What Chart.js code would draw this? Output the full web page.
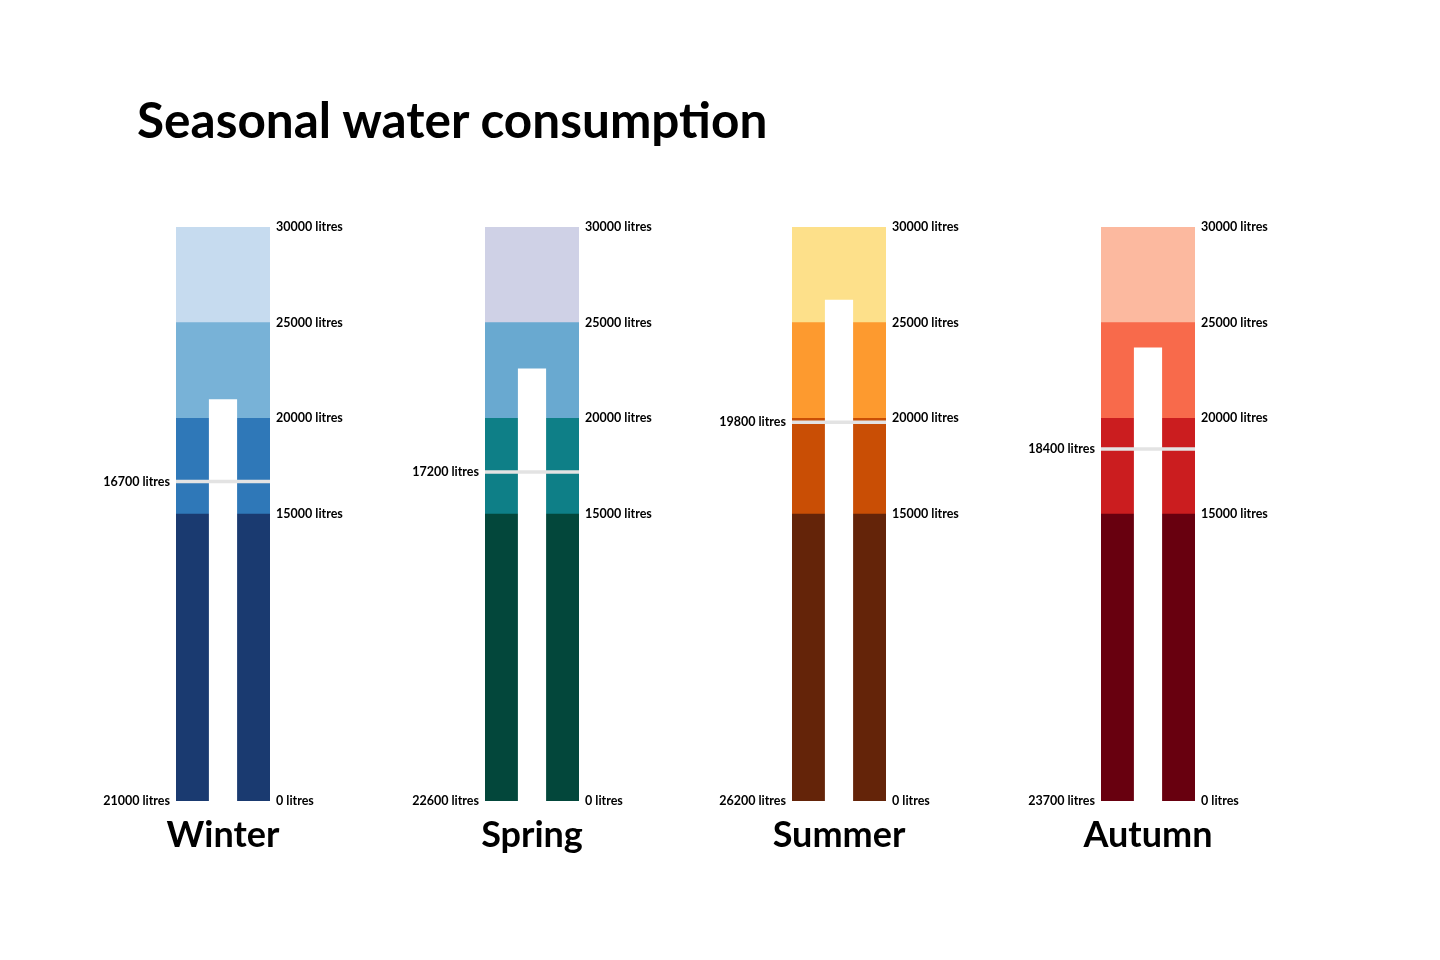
<!DOCTYPE html>
<html>
<head>
<meta charset="utf-8">
<script src="https://cdn.jsdelivr.net/npm/chart.js@4/dist/chart.umd.min.js"></script>
<style>
  body { margin: 0; background: #fff; width: 1440px; height: 960px; position: relative; overflow: hidden; font-family: Lato, sans-serif; }
  h1 { position: absolute; left: 137px; top: 90px; margin: 0; font-size: 49.5px; font-weight: 700; color: #000; line-height: 1.2; }
  .panel { position: absolute; top: 200px; width: 308px; height: 680px; }
</style>
</head>
<body>
<h1>Seasonal water consumption</h1>
<div class="panel" style="left:69px"><canvas id="c0"></canvas></div>
<div class="panel" style="left:378px"><canvas id="c1"></canvas></div>
<div class="panel" style="left:685px"><canvas id="c2"></canvas></div>
<div class="panel" style="left:994px"><canvas id="c3"></canvas></div>
<script>
// values
const seasons = ['Winter', 'Spring', 'Summer', 'Autumn']
const consumption = [21000, 22600, 26200, 23700]
const targets = [16700, 17200, 19800, 18400]
const bandLimits = [15000, 20000, 25000, 30000]
const axisTicks = [0, 15000, 20000, 25000, 30000]

// band colours, darkest first
const palettes = [
    ['#1a3a70', '#2f78b8', '#78b2d7', '#c6dbef'],
    ['#03473b', '#0e7f87', '#69a9d0', '#cfd1e6'],
    ['#642409', '#c94e05', '#fd9a2f', '#fde08a'],
    ['#68000f', '#cb1d1f', '#f86a4b', '#fcb99f']
]

const tickFont = { family: 'Lato', size: 12.5, weight: 'bold' }

seasons.forEach((season, i) => {
    let bands = bandLimits.map((top, b) => ({
        data: [[b === 0 ? 0 : bandLimits[b - 1], top]],
        backgroundColor: palettes[i][b],
        barPercentage: 1,
        categoryPercentage: 1,
        grouped: false
    }))

    new Chart(document.getElementById('c' + i), {
        type: 'bar',
        data: {
            labels: [season],
            datasets: [
                // target marker, thin light line across the band
                {
                    data: [[targets[i] - 75, targets[i] + 75]],
                    backgroundColor: '#e3e3e3',
                    barPercentage: 1,
                    categoryPercentage: 1,
                    grouped: false
                },
                // actual consumption
                {
                    data: [[0, consumption[i]]],
                    backgroundColor: '#ffffff',
                    barPercentage: 0.3,
                    categoryPercentage: 1,
                    grouped: false
                },
                ...bands
            ]
        },
        options: {
            responsive: true,
            maintainAspectRatio: false,
            animation: false,
            layout: { padding: { top: 27 } },
            plugins: { legend: { display: false }, tooltip: { enabled: false } },
            scales: {
                x: {
                    grid: { display: false, drawTicks: false },
                    border: { display: false },
                    ticks: { color: '#000', padding: 13, font: { family: 'Lato', size: 36, weight: 'bold' } },
                    afterFit: (scale) => { scale.height = 79 }
                },
                y: {
                    position: 'left',
                    min: 0,
                    max: 30000,
                    grid: { display: false, drawTicks: false },
                    border: { display: false },
                    afterBuildTicks: (scale) => { scale.ticks = [{ value: 0 }, { value: targets[i] }] },
                    afterFit: (scale) => { scale.width = 107 },
                    ticks: {
                        autoSkip: false,
                        padding: 6,
                        color: '#000',
                        font: tickFont,
                        callback: (v) => (v === 0 ? consumption[i] : v) + ' litres'
                    }
                },
                y2: {
                    position: 'right',
                    min: 0,
                    max: 30000,
                    grid: { display: false, drawTicks: false },
                    border: { display: false },
                    afterBuildTicks: (scale) => { scale.ticks = axisTicks.map(v => ({ value: v })) },
                    afterFit: (scale) => { scale.width = 107 },
                    ticks: {
                        autoSkip: false,
                        padding: 6,
                        color: '#000',
                        font: tickFont,
                        callback: (v) => v + ' litres'
                    }
                }
            }
        }
    })
})
</script>
</body>
</html>
